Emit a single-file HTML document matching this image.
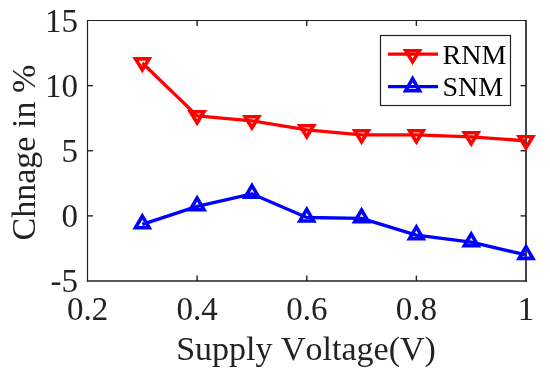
<!DOCTYPE html>
<html><head><meta charset="utf-8"><style>
html,body{margin:0;padding:0;background:#fff;width:550px;height:370px;overflow:hidden}
svg{display:block}
text{font-kerning:none;font-feature-settings:"kern" 0}
.t{font-family:"Liberation Serif",serif;font-size:33px;fill:#222222}
.l{font-family:"Liberation Serif",serif;font-size:34px;fill:#222222}
.g{font-family:"Liberation Serif",serif;font-size:28px;fill:#000}
</style></head><body>
<svg width="550" height="370" viewBox="0 0 550 370">
<rect width="550" height="370" fill="#fff"/>
<line x1="86.9" y1="20.5" x2="526.85" y2="20.5" stroke="#222222" stroke-width="1.2"/>
<line x1="87.5" y1="19.9" x2="87.5" y2="281.8" stroke="#222222" stroke-width="1.2"/>
<line x1="526.0" y1="19.9" x2="526.0" y2="281.8" stroke="#222222" stroke-width="1.7"/>
<line x1="86.9" y1="281.0" x2="526.85" y2="281.0" stroke="#222222" stroke-width="1.6"/>
<line x1="197.12" y1="281.0" x2="197.12" y2="275.6" stroke="#222222" stroke-width="1.4"/>
<line x1="197.12" y1="20.5" x2="197.12" y2="25.9" stroke="#222222" stroke-width="1.4"/>
<line x1="306.75" y1="281.0" x2="306.75" y2="275.6" stroke="#222222" stroke-width="1.4"/>
<line x1="306.75" y1="20.5" x2="306.75" y2="25.9" stroke="#222222" stroke-width="1.4"/>
<line x1="416.38" y1="281.0" x2="416.38" y2="275.6" stroke="#222222" stroke-width="1.4"/>
<line x1="416.38" y1="20.5" x2="416.38" y2="25.9" stroke="#222222" stroke-width="1.4"/>
<line x1="87.5" y1="215.88" x2="92.9" y2="215.88" stroke="#222222" stroke-width="1.4"/>
<line x1="526.0" y1="215.88" x2="520.6" y2="215.88" stroke="#222222" stroke-width="1.4"/>
<line x1="87.5" y1="150.75" x2="92.9" y2="150.75" stroke="#222222" stroke-width="1.4"/>
<line x1="526.0" y1="150.75" x2="520.6" y2="150.75" stroke="#222222" stroke-width="1.4"/>
<line x1="87.5" y1="85.62" x2="92.9" y2="85.62" stroke="#222222" stroke-width="1.4"/>
<line x1="526.0" y1="85.62" x2="520.6" y2="85.62" stroke="#222222" stroke-width="1.4"/>
<text x="87.50" y="320" text-anchor="middle" class="t">0.2</text>
<text x="197.12" y="320" text-anchor="middle" class="t">0.4</text>
<text x="306.75" y="320" text-anchor="middle" class="t">0.6</text>
<text x="416.38" y="320" text-anchor="middle" class="t">0.8</text>
<text x="526.00" y="320" text-anchor="middle" class="t">1</text>
<text x="78" y="292.20" text-anchor="end" class="t">-5</text>
<text x="78" y="227.07" text-anchor="end" class="t">0</text>
<text x="78" y="161.95" text-anchor="end" class="t">5</text>
<text x="78" y="96.83" text-anchor="end" class="t">10</text>
<text x="78" y="31.70" text-anchor="end" class="t">15</text>
<text x="306" y="360" text-anchor="middle" class="l">Supply Voltage(V)</text>
<text transform="translate(35,152.6) rotate(-90)" text-anchor="middle" class="l">Chnage in %</text>
<polyline points="142.31,62.96 197.12,115.85 251.94,120.85 306.75,129.85 361.56,134.90 416.38,134.90 471.19,136.90 526.00,140.80" fill="none" stroke="#ff0000" stroke-width="3.3" stroke-linejoin="round"/>
<path d="M135.53,58.86 L149.10,58.86 L142.31,69.92 Z" fill="none" stroke="#ff0000" stroke-width="3.6" stroke-linejoin="miter"/>
<path d="M190.34,111.75 L203.91,111.75 L197.12,122.81 Z" fill="none" stroke="#ff0000" stroke-width="3.6" stroke-linejoin="miter"/>
<path d="M245.15,116.75 L258.72,116.75 L251.94,127.81 Z" fill="none" stroke="#ff0000" stroke-width="3.6" stroke-linejoin="miter"/>
<path d="M299.97,125.75 L313.53,125.75 L306.75,136.81 Z" fill="none" stroke="#ff0000" stroke-width="3.6" stroke-linejoin="miter"/>
<path d="M354.78,130.80 L368.35,130.80 L361.56,141.86 Z" fill="none" stroke="#ff0000" stroke-width="3.6" stroke-linejoin="miter"/>
<path d="M409.59,130.80 L423.16,130.80 L416.38,141.86 Z" fill="none" stroke="#ff0000" stroke-width="3.6" stroke-linejoin="miter"/>
<path d="M464.40,132.80 L477.97,132.80 L471.19,143.86 Z" fill="none" stroke="#ff0000" stroke-width="3.6" stroke-linejoin="miter"/>
<path d="M519.22,136.70 L532.78,136.70 L526.00,147.76 Z" fill="none" stroke="#ff0000" stroke-width="3.6" stroke-linejoin="miter"/>
<polyline points="142.31,224.35 197.12,206.35 251.94,193.85 306.75,217.50 361.56,218.35 416.38,235.20 471.19,242.20 526.00,254.90" fill="none" stroke="#0000ff" stroke-width="3.3" stroke-linejoin="round"/>
<path d="M135.46,227.80 L149.17,227.80 L142.31,216.15 Z" fill="none" stroke="#0000ff" stroke-width="3.6" stroke-linejoin="miter"/>
<path d="M190.27,209.80 L203.98,209.80 L197.12,198.15 Z" fill="none" stroke="#0000ff" stroke-width="3.6" stroke-linejoin="miter"/>
<path d="M245.08,197.30 L258.79,197.30 L251.94,185.65 Z" fill="none" stroke="#0000ff" stroke-width="3.6" stroke-linejoin="miter"/>
<path d="M299.90,220.95 L313.60,220.95 L306.75,209.30 Z" fill="none" stroke="#0000ff" stroke-width="3.6" stroke-linejoin="miter"/>
<path d="M354.71,221.80 L368.42,221.80 L361.56,210.15 Z" fill="none" stroke="#0000ff" stroke-width="3.6" stroke-linejoin="miter"/>
<path d="M409.52,238.65 L423.23,238.65 L416.38,227.00 Z" fill="none" stroke="#0000ff" stroke-width="3.6" stroke-linejoin="miter"/>
<path d="M464.33,245.65 L478.04,245.65 L471.19,234.00 Z" fill="none" stroke="#0000ff" stroke-width="3.6" stroke-linejoin="miter"/>
<path d="M519.15,258.35 L532.85,258.35 L526.00,246.70 Z" fill="none" stroke="#0000ff" stroke-width="3.6" stroke-linejoin="miter"/>
<rect x="380.5" y="35.5" width="130" height="70" fill="#fff" stroke="#222222" stroke-width="1.2"/>
<line x1="388" y1="54.1" x2="438" y2="54.1" stroke="#ff0000" stroke-width="3.3"/>
<path d="M405.81,50.70 L419.39,50.70 L412.60,61.84 Z" fill="none" stroke="#ff0000" stroke-width="3.6"/>
<text x="442.5" y="64.4" class="g">RNM</text>
<line x1="388" y1="86.7" x2="438" y2="86.7" stroke="#0000ff" stroke-width="3.3"/>
<path d="M405.71,90.70 L419.49,90.70 L412.60,78.71 Z" fill="none" stroke="#0000ff" stroke-width="3.6"/>
<text x="442.5" y="96.4" class="g">SNM</text>
</svg>
</body></html>
